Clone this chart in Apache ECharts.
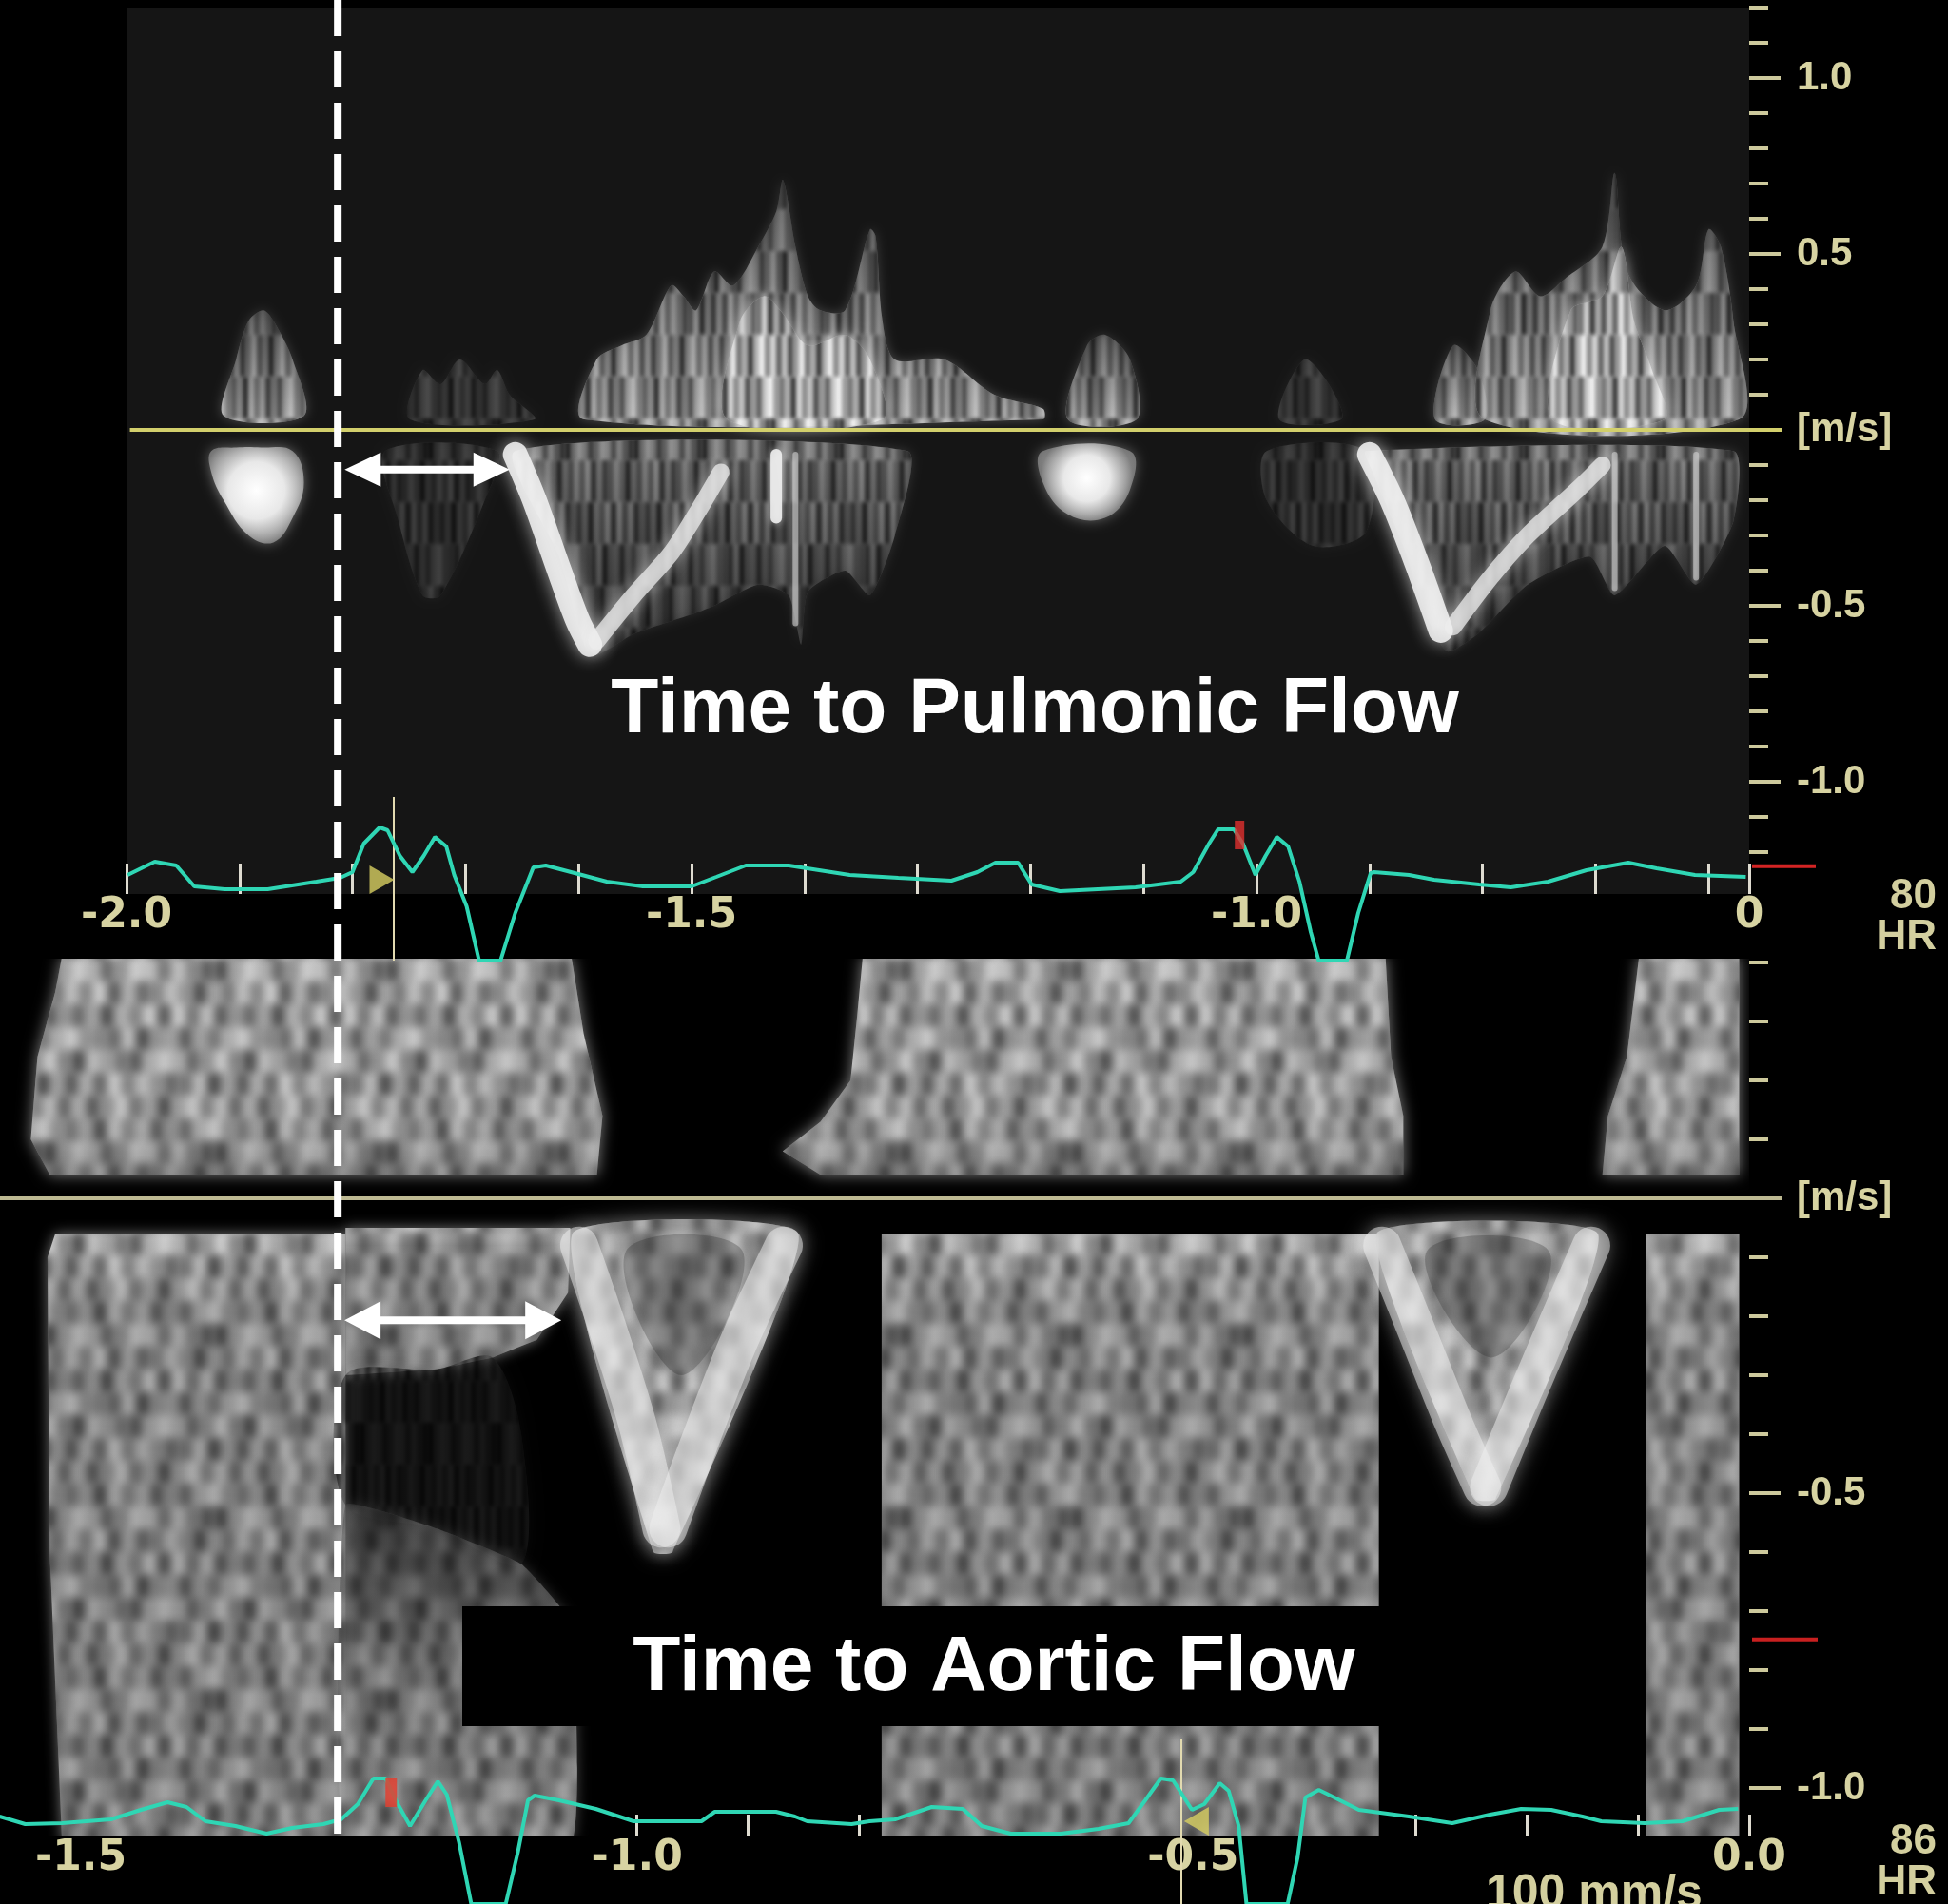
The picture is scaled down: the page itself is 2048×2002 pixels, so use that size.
<!DOCTYPE html>
<html><head><meta charset="utf-8">
<script src="https://cdn.jsdelivr.net/npm/echarts@6/dist/echarts.min.js"></script>
<style>html,body{margin:0;padding:0;background:#000;overflow:hidden}#c{width:2048px;height:2002px}</style>
</head><body><div id="c"></div>
<script>
// ---------------- DATA (time in s, velocity in m/s, ECG in mV) ----------------
const TOP_END = -0.564;
const TOP_TIME_TICKS = [-2.0,-1.9,-1.8,-1.7,-1.6,-1.5,-1.4,-1.3,-1.2,-1.1,-1.0,-0.9,-0.8,-0.7,-0.6,TOP_END];
const TOP_TIME_LABELS = [-2.0,-1.5,-1.0,TOP_END];
const TOP_TIME_TEXT = ['-2.0','-1.5','-1.0','0'];
const TOP_VEL_LABELS = [1.0,0.5,0,-0.5,-1.0];
const TOP_VEL_MAJOR = [1.0,0.5,-0.5,-1.0];
const TOP_VEL_MINOR = [1.2,1.1,0.9,0.8,0.7,0.6,0.4,0.3,0.2,0.1,-0.1,-0.2,-0.3,-0.4,-0.6,-0.7,-0.8,-0.9,-1.1,-1.2];
const BOT_TIME_TICKS = [-1.5,-1.4,-1.3,-1.2,-1.1,-1.0,-0.9,-0.8,-0.7,-0.6,-0.5,-0.4,-0.3,-0.2,-0.1,0.0];
const BOT_TIME_LABELS = [-1.5,-1.0,-0.5,0.0];
const BOT_VEL_LABELS = [0,-0.5,-1.0];
const BOT_VEL_MAJOR = [-0.5,-1.0];
const BOT_VEL_MINOR = [0.4,0.3,0.2,0.1,-0.1,-0.2,-0.3,-0.4,-0.6,-0.7,-0.8,-0.9];

const ecgTopT = [-1.999,-1.975,-1.956,-1.940,-1.913,-1.875,-1.832,-1.811,-1.800,-1.790,-1.776,-1.769,-1.758,-1.747,-1.737,-1.727,-1.717,-1.710,-1.699,-1.688,-1.669,-1.656,-1.640,-1.629,-1.597,-1.575,-1.543,-1.500,-1.478,-1.452,-1.414,-1.360,-1.317,-1.270,-1.247,-1.231,-1.211,-1.199,-1.174,-1.107,-1.067,-1.056,-1.042,-1.034,-1.020,-1.012,-1.001,-0.992,-0.982,-0.972,-0.962,-0.952,-0.945,-0.920,-0.910,-0.899,-0.896,-0.865,-0.843,-0.803,-0.775,-0.742,-0.708,-0.671,-0.646,-0.612,-0.567];
const ecgTopV = [0.05,0.19,0.15,-0.07,-0.10,-0.10,-0.02,0.02,0.08,0.38,0.55,0.52,0.25,0.08,0.25,0.45,0.35,0.05,-0.28,-0.85,-0.85,-0.35,0.13,0.15,0.05,-0.02,-0.07,-0.07,0.03,0.15,0.15,0.05,0.02,-0.01,0.08,0.18,0.18,-0.05,-0.12,-0.08,-0.02,0.08,0.38,0.53,0.53,0.38,0.05,0.25,0.45,0.35,-0.02,-0.55,-0.85,-0.85,-0.35,0.07,0.08,0.05,0.00,-0.05,-0.08,-0.02,0.10,0.18,0.12,0.05,0.03];
const ecgBotT = [-1.573,-1.550,-1.517,-1.473,-1.446,-1.422,-1.405,-1.388,-1.361,-1.333,-1.310,-1.282,-1.266,-1.251,-1.237,-1.226,-1.215,-1.204,-1.190,-1.179,-1.171,-1.160,-1.149,-1.118,-1.107,-1.098,-1.092,-1.070,-1.037,-1.003,-0.942,-0.930,-0.875,-0.858,-0.847,-0.807,-0.791,-0.768,-0.735,-0.707,-0.690,-0.664,-0.619,-0.585,-0.558,-0.543,-0.529,-0.518,-0.501,-0.490,-0.476,-0.468,-0.459,-0.452,-0.415,-0.406,-0.399,-0.387,-0.373,-0.351,-0.306,-0.267,-0.233,-0.205,-0.178,-0.150,-0.133,-0.094,-0.060,-0.027,-0.010];
const ecgBotV = [0.05,-0.03,-0.02,0.02,0.12,0.20,0.15,0.00,-0.05,-0.13,-0.07,-0.03,0.02,0.18,0.45,0.45,0.18,-0.05,0.22,0.42,0.28,-0.22,-0.87,-0.87,-0.32,0.22,0.27,0.22,0.13,0.00,0.00,0.10,0.10,0.05,0.00,-0.03,0.00,0.02,0.15,0.13,-0.05,-0.13,-0.13,-0.08,-0.02,0.22,0.45,0.43,0.12,0.18,0.40,0.32,-0.05,-0.87,-0.87,-0.38,0.25,0.33,0.25,0.12,0.05,-0.02,0.07,0.13,0.12,0.05,0.00,-0.02,0.00,0.12,0.13];

// Doppler spectral outlines, top panel [t, v]
const topPosBlob1 = [[-1.914,0.04],[-1.903,0.20],[-1.892,0.31],[-1.879,0.34],[-1.870,0.31],[-1.853,0.20],[-1.843,0.04]];
const topPosFaint1 = [[-1.749,0.03],[-1.738,0.17],[-1.722,0.13],[-1.705,0.20],[-1.683,0.13],[-1.672,0.17],[-1.661,0.10],[-1.639,0.03]];
const topPosMain1 = [[-1.595,0.03],[-1.584,0.20],[-1.562,0.24],[-1.540,0.27],[-1.518,0.41],[-1.507,0.38],[-1.496,0.34],[-1.480,0.45],[-1.463,0.41],[-1.441,0.52],[-1.425,0.62],[-1.419,0.71],[-1.408,0.52],[-1.397,0.38],[-1.386,0.34],[-1.364,0.34],[-1.342,0.57],[-1.337,0.55],[-1.331,0.31],[-1.320,0.20],[-1.276,0.20],[-1.232,0.10],[-1.189,0.06],[-1.189,0.03]];
const topPosCore1 = [[-1.468,0.03],[-1.457,0.31],[-1.436,0.38],[-1.419,0.33],[-1.397,0.24],[-1.364,0.27],[-1.342,0.20],[-1.331,0.03]];
const topPosSmall1 = [[-1.167,0.03],[-1.150,0.24],[-1.134,0.27],[-1.112,0.20],[-1.106,0.03]];
const topPosSmall2 = [[-0.980,0.03],[-0.958,0.20],[-0.936,0.13],[-0.925,0.03]];
const topPosSmall3 = [[-0.842,0.03],[-0.826,0.24],[-0.804,0.17],[-0.798,0.03]];
const topPosMain2 = [[-0.798,0.03],[-0.793,0.34],[-0.771,0.45],[-0.749,0.38],[-0.727,0.43],[-0.694,0.52],[-0.683,0.73],[-0.672,0.45],[-0.639,0.34],[-0.611,0.41],[-0.600,0.57],[-0.589,0.52],[-0.578,0.31],[-0.573,0.03]];
const topPosCore2 = [[-0.738,0.03],[-0.722,0.34],[-0.694,0.38],[-0.677,0.52],[-0.666,0.31],[-0.650,0.17],[-0.639,0.03]];
const topNegBlob1 = [[-1.925,-0.06],[-1.903,-0.05],[-1.881,-0.05],[-1.853,-0.06],[-1.843,-0.15],[-1.853,-0.25],[-1.870,-0.32],[-1.892,-0.30],[-1.914,-0.20],[-1.925,-0.12]];
const topNegFaintV = [[-1.771,-0.06],[-1.672,-0.06],[-1.683,-0.20],[-1.722,-0.47],[-1.738,-0.47],[-1.760,-0.25]];
const topNegRegion1 = [[-1.656,-0.06],[-1.617,-0.36],[-1.595,-0.61],[-1.584,-0.64],[-1.551,-0.58],[-1.496,-0.52],[-1.480,-0.50],[-1.441,-0.44],[-1.414,-0.47],[-1.403,-0.61],[-1.397,-0.46],[-1.364,-0.40],[-1.342,-0.47],[-1.320,-0.30],[-1.309,-0.06]];
const topNegArmL1 = [[-1.656,-0.07],[-1.639,-0.20],[-1.617,-0.40],[-1.601,-0.54],[-1.590,-0.61]];
const topNegArmR1 = [[-1.584,-0.60],[-1.551,-0.47],[-1.518,-0.35],[-1.496,-0.24],[-1.474,-0.12]];
const topNegBlob2 = [[-1.189,-0.06],[-1.112,-0.06],[-1.112,-0.17],[-1.134,-0.25],[-1.167,-0.24],[-1.189,-0.15]];
const topNegFaint2 = [[-0.991,-0.06],[-0.903,-0.06],[-0.903,-0.29],[-0.950,-0.33],[-0.991,-0.20]];
const topNegRegion2 = [[-0.903,-0.06],[-0.578,-0.06],[-0.578,-0.26],[-0.611,-0.44],[-0.639,-0.33],[-0.683,-0.47],[-0.705,-0.36],[-0.760,-0.44],[-0.804,-0.58],[-0.831,-0.63],[-0.848,-0.54],[-0.870,-0.33],[-0.897,-0.12]];
const topNegArmL2 = [[-0.900,-0.07],[-0.880,-0.20],[-0.858,-0.38],[-0.837,-0.57]];
const topNegArmR2 = [[-0.826,-0.56],[-0.793,-0.42],[-0.760,-0.30],[-0.716,-0.17],[-0.694,-0.10]];
const topStreak1 = [[-1.425,-0.07],[-1.425,-0.25]];
const topStreak2 = [[-1.408,-0.07],[-1.408,-0.55]];
const topStreak3 = [[-0.683,-0.07],[-0.683,-0.45]];
const topStreak4 = [[-0.611,-0.07],[-0.611,-0.42]];

// Doppler spectral outlines, bottom panel [t, v]
const botPosA = [[-1.517,0.41],[-1.059,0.41],[-1.048,0.28],[-1.031,0.14],[-1.036,0.04],[-1.528,0.04],[-1.545,0.10],[-1.539,0.24],[-1.523,0.35]];
const botPosB = [[-0.797,0.41],[-0.327,0.41],[-0.322,0.24],[-0.311,0.14],[-0.311,0.04],[-0.835,0.04],[-0.869,0.08],[-0.835,0.13],[-0.808,0.20],[-0.802,0.31]];
const botPosC = [[-0.099,0.41],[-0.009,0.41],[-0.009,0.04],[-0.132,0.04],[-0.127,0.14],[-0.110,0.24]];
const botNegD = [[-1.523,-0.06],[-1.262,-0.06],[-1.262,-1.09],[-1.517,-1.09],[-1.528,-0.60],[-1.530,-0.10]];
const botNegE = [[-1.262,-0.05],[-1.060,-0.05],[-1.062,-0.16],[-1.090,-0.24],[-1.130,-0.27],[-1.180,-0.29],[-1.262,-0.30]];
const botNegEdim = [[-1.262,-0.30],[-1.180,-0.29],[-1.130,-0.27],[-1.104,-0.40],[-1.104,-0.62],[-1.180,-0.56],[-1.262,-0.52]];
const botNegE2 = [[-1.262,-0.52],[-1.180,-0.56],[-1.104,-0.62],[-1.059,-0.72],[-1.059,-1.09],[-1.262,-1.09]];
const botNegV1 = [[-1.058,-0.06],[-0.855,-0.06],[-0.968,-0.60],[-0.985,-0.60]];
const botDarkV1 = [[-1.010,-0.09],[-0.905,-0.09],[-0.960,-0.30]];
const botArmL1 = [[-1.052,-0.08],[-1.030,-0.20],[-1.000,-0.38],[-0.978,-0.56]];
const botArmR1 = [[-0.972,-0.56],[-0.945,-0.42],[-0.910,-0.25],[-0.868,-0.08]];
const botNegG = [[-0.780,-0.06],[-0.333,-0.06],[-0.333,-1.09],[-0.780,-1.09]];
const botNegV2 = [[-0.335,-0.06],[-0.136,-0.06],[-0.228,-0.51],[-0.246,-0.51]];
const botDarkV2 = [[-0.290,-0.09],[-0.180,-0.09],[-0.232,-0.27]];
const botArmL2 = [[-0.330,-0.08],[-0.300,-0.22],[-0.266,-0.38],[-0.240,-0.49]];
const botArmR2 = [[-0.234,-0.49],[-0.199,-0.33],[-0.165,-0.18],[-0.142,-0.08]];
const botNegI = [[-0.093,-0.06],[-0.009,-0.06],[-0.009,-1.09],[-0.093,-1.09]];

const DASH_T_TOP = -1.813;
const ARROW_TOP = [-1.807, -1.661, -0.113];
const ARROW_BOT = [-1.263, -1.068, -0.207];
const CURSOR_TOP = -1.764, CURSOR_BOT = -0.511;
const TRI_TOP = [-1.774, 0.0], TRI_BOT = [-0.497, 0.0];
const RED_TOP = [-1.015, 0.47], RED_BOT = [-1.221, 0.30];
const LIMIT_TOP = -1.24, LIMIT_BOT = -0.748;

// ---------------- STYLE ----------------
// fixed hand-made speckle texture (darkness levels 0-9), used only as a fill pattern
const TEX_ROWS = ['305172840639','720463915284','158930274016','493615082751','061847392508','836204571943','274059136820','619382705147'];
function makeTexture(cw, ch, maxAlpha, blur) {
  const cols = TEX_ROWS[0].length, rows = TEX_ROWS.length;
  const W = cols * cw, H = rows * ch;
  const cv = document.createElement('canvas'); cv.width = W; cv.height = H;
  const ctx = cv.getContext('2d');
  ctx.filter = 'blur(' + blur + 'px)';
  for (let dy = -1; dy <= 1; dy++) for (let dx = -1; dx <= 1; dx++)
    for (let r = 0; r < rows; r++) for (let c = 0; c < cols; c++) {
      const d = +TEX_ROWS[r][c];
      ctx.fillStyle = 'rgba(0,0,0,' + (d / 9 * maxAlpha).toFixed(3) + ')';
      ctx.fillRect(c * cw + dx * W + (r % 2) * cw / 2, r * ch + dy * H, cw, ch);
    }
  return {image: cv, repeat: 'repeat'};
}
const TEX_BLOCK = makeTexture(15, 24, 0.6, 5);
const TEX_STREAK = makeTexture(6, 44, 0.8, 2);

const G = echarts.graphic;
const KHAKI = '#cdc99c', LABEL = '#d7d3a2', ECG = '#2fd6b4';
const STYLE = {
  posFaint: {fill:'rgba(170,170,170,0.30)', blur:10, glow:'rgba(170,170,170,0.3)', smooth:0.3, tex:TEX_STREAK},
  posMid: {fill:new G.LinearGradient(0,0,0,1,[{offset:0,color:'rgba(180,180,180,0.45)'},{offset:1,color:'rgba(230,230,230,0.8)'}]), blur:12, glow:'rgba(200,200,200,0.4)', smooth:0.3, tex:TEX_STREAK},
  posCore: {fill:'rgba(250,250,250,0.8)', blur:16, glow:'rgba(255,255,255,0.6)', smooth:0.3, tex:TEX_STREAK},
  negBlob: {fill:new G.RadialGradient(0.5,0.45,0.6,[{offset:0,color:'#ffffff'},{offset:0.5,color:'#e8e8e8'},{offset:1,color:'rgba(160,160,160,0.6)'}]), blur:14, glow:'rgba(230,230,230,0.6)', smooth:0.4},
  negFaint: {fill:'rgba(150,150,150,0.28)', blur:10, glow:'rgba(150,150,150,0.3)', smooth:0.3, tex:TEX_STREAK},
  negRegion: {fill:new G.LinearGradient(0,0,0,1,[{offset:0,color:'rgba(200,200,200,0.65)'},{offset:1,color:'rgba(120,120,120,0.4)'}]), blur:12, glow:'rgba(150,150,150,0.4)', smooth:0.2, tex:TEX_STREAK},
  arm: {line:true, stroke:'rgba(246,246,246,0.85)', width:26, blur:18, glow:'rgba(255,255,255,0.7)'},
  armThin: {line:true, stroke:'rgba(236,236,236,0.75)', width:18, blur:16, glow:'rgba(255,255,255,0.6)'},
  streak: {line:true, stroke:'rgba(210,210,210,0.6)', width:6, blur:4, glow:'rgba(200,200,200,0.5)'},
  streakBright: {line:true, stroke:'rgba(240,240,240,0.9)', width:12, blur:8, glow:'rgba(255,255,255,0.6)'},
  blockPos: {fill:new G.LinearGradient(0,0,0,1,[{offset:0,color:'#cacaca'},{offset:0.8,color:'#c0c0c0'},{offset:1,color:'#9a9a9a'}]), blur:16, glow:'rgba(160,160,160,0.8)', smooth:0, tex:TEX_BLOCK},
  blockNeg: {fill:new G.LinearGradient(0,0,0,1,[{offset:0,color:'#cfcfcf'},{offset:0.12,color:'#acacac'},{offset:1,color:'#a0a0a0'}]), blur:14, glow:'rgba(140,140,140,0.8)', smooth:0, tex:TEX_BLOCK},
  blockDim: {fill:'rgba(70,70,70,0.3)', blur:14, glow:'rgba(70,70,70,0.4)', smooth:0.3, tex:TEX_STREAK},
  blockMid: {fill:new G.LinearGradient(0,0,0,1,[{offset:0,color:'rgba(110,110,110,0.5)'},{offset:0.5,color:'rgba(160,160,160,0.85)'},{offset:1,color:'#a8a8a8'}]), blur:14, glow:'rgba(120,120,120,0.6)', smooth:0.1, tex:TEX_BLOCK},
  vFill: {fill:'rgba(205,205,205,0.92)', blur:20, glow:'rgba(200,200,200,0.6)', smooth:0.15, tex:TEX_BLOCK},
  vDark: {fill:'rgba(40,40,40,0.28)', blur:22, glow:'rgba(40,40,40,0.4)', smooth:0.4},
  armBig: {line:true, stroke:'rgba(240,240,240,0.5)', width:40, blur:24, glow:'rgba(240,240,240,0.6)'}
};

const TOP_SHAPES = [
  ['posMid',topPosBlob1],['posFaint',topPosFaint1],['posMid',topPosMain1],['posCore',topPosCore1],
  ['posMid',topPosSmall1],['posFaint',topPosSmall2],['posMid',topPosSmall3],['posMid',topPosMain2],['posCore',topPosCore2],
  ['negBlob',topNegBlob1],['negFaint',topNegFaintV],['negRegion',topNegRegion1],['arm',topNegArmL1],['armThin',topNegArmR1],
  ['negBlob',topNegBlob2],['negFaint',topNegFaint2],['negRegion',topNegRegion2],['arm',topNegArmL2],['armThin',topNegArmR2],
  ['streakBright',topStreak1],['streak',topStreak2],['streak',topStreak3],['streak',topStreak4]
];
const BOT_SHAPES = [
  ['blockPos',botPosA],['blockPos',botPosB],['blockPos',botPosC],
  ['blockNeg',botNegD],['blockNeg',botNegE],['blockDim',botNegEdim],['blockMid',botNegE2],
  ['vFill',botNegV1],['vDark',botDarkV1],['armBig',botArmL1],['armBig',botArmR1],
  ['blockNeg',botNegG],['vFill',botNegV2],['vDark',botDarkV2],['armBig',botArmL2],['armBig',botArmR2],['blockNeg',botNegI]
];

function renderShapes(list) {
  return function (params, api) {
    const [kind, pts] = list[params.dataIndex];
    const st = STYLE[kind];
    const px = pts.map(p => api.coord(p));
    if (st.line) {
      return {type:'polyline', shape:{points:px, smooth:0.3},
        style:{stroke:st.stroke, lineWidth:st.width, lineCap:'round', lineJoin:'round', fill:null, shadowBlur:st.blur, shadowColor:st.glow}};
    }
    const children = [{type:'polygon', shape:{points:px, smooth:st.smooth}, style:{fill:st.fill, shadowBlur:st.blur, shadowColor:st.glow}}];
    if (st.tex) children.push({type:'polygon', shape:{points:px, smooth:st.smooth}, style:{fill:st.tex}});
    return {type:'group', children};
  };
}

const zip = (a, b) => a.map((t, i) => [t, b[i]]);
const lblFont = {color:LABEL, fontFamily:'DejaVu Sans', fontWeight:'bold', fontSize:44};
const velFont = {color:LABEL, fontFamily:'Liberation Sans', fontWeight:'bold', fontSize:42};

const option = {
  backgroundColor:'#000',
  animation:false,
  grid:[
    {left:133, top:8, width:1706, height:932, show:true, backgroundColor:'#151515', borderWidth:0},
    {left:133, top:820, width:1706, height:190},
    {left:0, top:1008, width:1839, height:922},
    {left:0, top:1820, width:1839, height:182}
  ],
  xAxis:[
    {gridIndex:0, type:'value', min:-2.0, max:TOP_END, position:'bottom', axisLine:{show:false, onZero:false}, splitLine:{show:false},
     axisTick:{show:true, inside:true, length:32, customValues:TOP_TIME_TICKS, lineStyle:{color:'#dedbd0', width:3}},
     axisLabel:Object.assign({show:true, margin:2, customValues:TOP_TIME_LABELS,
       formatter:v => TOP_TIME_TEXT[TOP_TIME_LABELS.findIndex(x => Math.abs(x - v) < 1e-6)] || ''}, lblFont)},
    {gridIndex:1, type:'value', min:-2.0, max:TOP_END, show:false},
    {gridIndex:2, type:'value', min:-1.5727, max:0, position:'bottom', axisLine:{show:false, onZero:false}, splitLine:{show:false},
     axisTick:{show:true, inside:true, length:22, customValues:BOT_TIME_TICKS, lineStyle:{color:'#dedbd0', width:3}},
     axisLabel:Object.assign({show:true, margin:3, customValues:BOT_TIME_LABELS, formatter:v => (Math.abs(v) < 1e-9 ? 0 : v).toFixed(1)}, lblFont)},
    {gridIndex:3, type:'value', min:-1.5727, max:0, show:false}
  ],
  yAxis:[
    {gridIndex:0, type:'value', position:'right', min:-1.3189, max:1.2, axisLine:{show:false, onZero:false}, splitLine:{show:false},
     axisTick:{show:true, length:20, customValues:TOP_VEL_MINOR, lineStyle:{color:KHAKI, width:4}},
     axisLabel:Object.assign({show:true, margin:50, customValues:TOP_VEL_LABELS, formatter:v => Math.abs(v) < 1e-9 ? '[m/s]' : v.toFixed(1)}, velFont)},
    {gridIndex:0, type:'value', position:'right', min:-1.3189, max:1.2, axisLine:{show:false, onZero:false}, splitLine:{show:false},
     axisTick:{show:true, length:33, customValues:TOP_VEL_MAJOR, lineStyle:{color:KHAKI, width:4}}, axisLabel:{show:false}},
    {gridIndex:1, type:'value', min:-0.85, max:1.05, show:false},
    {gridIndex:2, type:'value', position:'right', min:-1.0806, max:0.4065, axisLine:{show:false, onZero:false}, splitLine:{show:false},
     axisTick:{show:true, length:20, customValues:BOT_VEL_MINOR, lineStyle:{color:KHAKI, width:4}},
     axisLabel:Object.assign({show:true, margin:50, customValues:BOT_VEL_LABELS, formatter:v => Math.abs(v) < 1e-9 ? '[m/s]' : v.toFixed(1)}, velFont)},
    {gridIndex:2, type:'value', position:'right', min:-1.0806, max:0.4065, axisLine:{show:false, onZero:false}, splitLine:{show:false},
     axisTick:{show:true, length:33, customValues:BOT_VEL_MAJOR, lineStyle:{color:KHAKI, width:4}}, axisLabel:{show:false}},
    {gridIndex:3, type:'value', min:-0.87, max:0.95, show:false}
  ],
  series:[
    {type:'custom', name:'Pulmonic Doppler', xAxisIndex:0, yAxisIndex:0, clip:true, z:2,
     data:TOP_SHAPES.map(s => s[1][0]), encode:{x:0, y:1}, renderItem:renderShapes(TOP_SHAPES)},
    {type:'custom', name:'Aortic Doppler', xAxisIndex:2, yAxisIndex:3, clip:true, z:2,
     data:BOT_SHAPES.map(s => s[1][0]), encode:{x:0, y:1}, renderItem:renderShapes(BOT_SHAPES)},
    {type:'line', name:'ECG top', xAxisIndex:1, yAxisIndex:2, data:zip(ecgTopT, ecgTopV), showSymbol:false, z:5,
     lineStyle:{color:ECG, width:4}, clip:true,
     markLine:{silent:true, symbol:'none', label:{show:false}, lineStyle:{color:'#e2dab0', width:2, type:'solid'},
       data:[[{coord:[CURSOR_TOP, 0.87]}, {coord:[CURSOR_TOP, -0.85]}]]}},
    {type:'line', name:'ECG bottom', xAxisIndex:3, yAxisIndex:5, data:zip(ecgBotT, ecgBotV), showSymbol:false, z:5,
     lineStyle:{color:ECG, width:4}, clip:true,
     markLine:{silent:true, symbol:'none', label:{show:false}, lineStyle:{color:'#e2dab0', width:2, type:'solid'},
       data:[[{coord:[CURSOR_BOT, 0.87]}, {coord:[CURSOR_BOT, -0.87]}]]}},
    {type:'scatter', xAxisIndex:1, yAxisIndex:2, z:6, data:[TRI_TOP], symbol:'triangle', symbolRotate:-90, symbolSize:[30,26], itemStyle:{color:'#d8cf62'}},
    {type:'scatter', xAxisIndex:3, yAxisIndex:5, z:6, data:[TRI_BOT], symbol:'triangle', symbolRotate:90, symbolSize:[30,26], itemStyle:{color:'#d8cf62'}},
    {type:'scatter', xAxisIndex:1, yAxisIndex:2, z:6, data:[RED_TOP], symbol:'rect', symbolSize:[10,30], itemStyle:{color:'#e0302e'}},
    {type:'scatter', xAxisIndex:3, yAxisIndex:5, z:6, data:[RED_BOT], symbol:'rect', symbolSize:[12,30], itemStyle:{color:'#e04030', opacity:0.85}}
  ]
};

const chart = echarts.init(document.getElementById('c'), null, {renderer:'canvas', width:2048, height:2002});
chart.setOption(option);

const PT = (t, v) => chart.convertToPixel({xAxisIndex:0, yAxisIndex:0}, [t, v]);
const PB = (t, v) => chart.convertToPixel({xAxisIndex:2, yAxisIndex:3}, [t, v]);

function arrow(p1, p2, hl, hw, sw) {
  const y = p1[1], x1 = p1[0], x2 = p2[0];
  return [
    {type:'line', z:120, shape:{x1:x1 + hl * 0.7, y1:y, x2:x2 - hl * 0.7, y2:y}, style:{stroke:'#fff', lineWidth:sw}},
    {type:'polygon', z:120, shape:{points:[[x1, y], [x1 + hl, y - hw], [x1 + hl, y + hw]]}, style:{fill:'#fff'}},
    {type:'polygon', z:120, shape:{points:[[x2, y], [x2 - hl, y - hw], [x2 - hl, y + hw]]}, style:{fill:'#fff'}}
  ];
}

const dashX = PT(DASH_T_TOP, 0)[0];
const yTop0 = PT(-2, 0)[1], yBot0 = PB(-1, 0)[1];
const yBotEnd = PB(-1, -1.0806)[1];
const gLeftTop = PT(-1.997, 0)[0], axisRight = PT(TOP_END, 0)[0];
const aT1 = PT(ARROW_TOP[0], ARROW_TOP[2]), aT2 = PT(ARROW_TOP[1], ARROW_TOP[2]);
const aB1 = PB(ARROW_BOT[0], ARROW_BOT[2]), aB2 = PB(ARROW_BOT[1], ARROW_BOT[2]);
const limT = PT(-1, LIMIT_TOP)[1], limB = PB(-1, LIMIT_BOT)[1];
const txtFont = s => 'bold ' + s + 'px "Liberation Sans", Arial, sans-serif';

const graphics = [
  {type:'line', z:110, shape:{x1:gLeftTop, y1:yTop0, x2:axisRight + 35, y2:yTop0}, style:{stroke:'#d2cf6c', lineWidth:4}},
  {type:'line', z:110, shape:{x1:0, y1:yBot0, x2:axisRight + 35, y2:yBot0}, style:{stroke:'#bdb992', lineWidth:4}},
  {type:'line', z:110, shape:{x1:axisRight + 3, y1:limT, x2:axisRight + 70, y2:limT}, style:{stroke:'#d42424', lineWidth:4}},
  {type:'line', z:110, shape:{x1:axisRight + 3, y1:limB, x2:axisRight + 72, y2:limB}, style:{stroke:'#c82020', lineWidth:4}},
  {type:'rect', z:100, shape:{x:486, y:1689, width:970, height:126}, style:{fill:'#000'}},
  {type:'text', z:130, style:{text:'Time to Pulmonic Flow', x:1088, y:747, align:'center', verticalAlign:'middle', fill:'#fff', font:txtFont(82)}},
  {type:'text', z:130, style:{text:'Time to Aortic Flow', x:1045, y:1754, align:'center', verticalAlign:'middle', fill:'#fff', font:txtFont(82)}},
  {type:'text', z:130, style:{text:'80', x:2036, y:943, align:'right', verticalAlign:'middle', fill:'#d3cf9f', font:txtFont(44)}},
  {type:'text', z:130, style:{text:'HR', x:2036, y:986, align:'right', verticalAlign:'middle', fill:'#d3cf9f', font:txtFont(44)}},
  {type:'text', z:130, style:{text:'86', x:2036, y:1937, align:'right', verticalAlign:'middle', fill:'#d3cf9f', font:txtFont(44)}},
  {type:'text', z:130, style:{text:'HR', x:2036, y:1980, align:'right', verticalAlign:'middle', fill:'#d3cf9f', font:txtFont(44)}},
  {type:'text', z:130, style:{text:'100 mm/s', x:1562, y:1967, align:'left', verticalAlign:'top', fill:'#d3cf9f', font:txtFont(50)}},
  {type:'line', z:125, shape:{x1:dashX, y1:0, x2:dashX, y2:yBotEnd + 4}, style:{stroke:'#ffffff', lineWidth:8, lineDash:[38, 16]}}
].concat(arrow(aT1, aT2, 38, 18, 8), arrow(aB1, aB2, 38, 20, 8));

chart.setOption({graphic:graphics});
</script></body></html>
